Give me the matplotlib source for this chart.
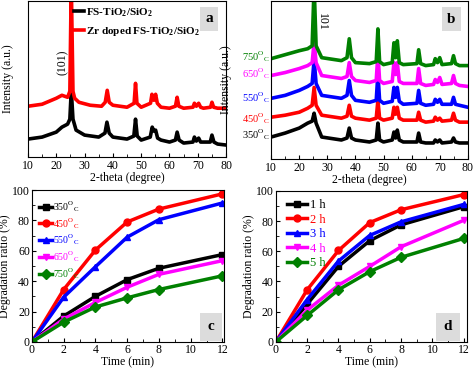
import matplotlib
matplotlib.use("Agg")
import matplotlib.pyplot as plt
from matplotlib.ticker import MultipleLocator

plt.rcParams["font.family"] = "Liberation Serif"
plt.rcParams["mathtext.fontset"] = "custom"
plt.rcParams["mathtext.rm"] = "Liberation Serif"
plt.rcParams["mathtext.bf"] = "Liberation Serif:bold"
plt.rcParams["xtick.direction"] = "in"
plt.rcParams["ytick.direction"] = "in"

# ---- panel a: XRD, (2theta, intensity) ----
a_black_x = [10, 15, 20, 22, 24, 24.8, 25.3, 25.9, 27, 30, 35, 37.2, 37.9, 38.7, 40, 45, 47.4, 48.0, 48.6,
             50, 53.2, 53.9, 54.5, 55.1, 55.8, 57, 60, 62.1, 62.7, 63.4, 65, 68.3, 68.8, 69.5, 70.3, 71,
             74.4, 75.0, 75.7, 77, 80]
a_black_y = [18, 20, 25, 30, 33, 38, 67, 38, 27, 22, 20, 24, 35, 24, 20, 18, 21, 38, 21,
             17, 20, 30, 26, 27, 19, 17, 15, 17, 25, 17, 14, 15, 20, 16, 19, 15,
             15, 22, 15, 13, 12]
a_red_x = [10, 15, 20, 22, 24, 24.8, 25.3, 25.9, 26.5, 28, 32, 36, 37.3, 38.0, 38.7, 40, 45, 47.5, 48.0, 48.5,
           50, 53.3, 53.8, 54.5, 55.1, 55.7, 57, 60, 62.1, 62.7, 63.3, 65, 68.3, 68.8, 69.5, 70.3, 71,
           72, 74.5, 75.0, 75.6, 77, 80]
a_red_y = [51, 53, 59, 62, 60, 66, 175, 66, 59, 55, 52, 51, 55, 67, 55, 52, 50, 54, 74, 54,
           50, 54, 63, 57, 63, 54, 50, 49, 51, 60, 51, 49, 50, 54, 51, 54, 50,
           49, 50, 55, 50, 49, 49]

# ---- panel b: XRD at five calcination temperatures ----
b_labels = ["350", "450", "550", "650", "750"]
b_x = [10, 15, 20, 23, 24.6, 25.3, 26.0, 28, 35, 37.0, 37.8, 38.6, 40, 45, 47.4, 48.0, 48.6, 50,
       53.1, 53.7, 54.3, 54.9, 55.6, 57, 61.9, 62.5, 63.2, 65, 67.8, 68.4, 69.2, 70.0, 70.8, 74.2, 74.9,
       75.6, 77, 80]
b_350 = [22, 26, 31, 36, 38, 46, 36, 22, 19, 21, 31, 21, 19, 17, 19, 36, 19, 17,
         19, 27, 21, 29, 19, 17, 17, 26, 17, 16, 16, 19, 17, 19, 16, 17, 21,
         17, 16, 16]
b_450 = [42, 44, 47, 51, 54, 72, 54, 44, 41, 43, 54, 43, 41, 39, 41, 59, 41, 39,
         41, 52, 45, 52, 41, 39, 39, 47, 39, 37, 38, 42, 39, 41, 38, 39, 46,
         39, 37, 37]
b_550 = [61, 64, 69, 73, 76, 100, 76, 64, 61, 64, 79, 64, 59, 57, 59, 86, 59, 56,
         58, 72, 62, 72, 58, 55, 56, 69, 56, 54, 55, 60, 57, 60, 55, 55, 62,
         55, 54, 52]
b_650 = [84, 87, 91, 94, 97, 118, 97, 84, 81, 83, 97, 83, 79, 77, 79, 106, 79, 76,
         78, 97, 85, 97, 78, 76, 76, 91, 76, 74, 75, 80, 77, 82, 75, 76, 84,
         76, 74, 73]
b_750 = [101, 105, 109, 111, 114, 175, 114, 102, 99, 102, 121, 102, 97, 96, 98, 131, 98, 95,
         97, 117, 102, 119, 97, 95, 96, 110, 96, 94, 95, 101, 97, 102, 95, 96, 104,
         96, 94, 94]
b_label_y = [24, 41, 62, 86, 103]

# ---- panel c/d: degradation ----
time = [0, 2, 4, 6, 8, 12]
c_labels = ["350", "450", "550", "650", "750"]
c_350 = [0, 17, 30, 41, 48.5, 57.5]
c_450 = [0, 34.5, 60.5, 79, 87.5, 97.5]
c_550 = [0, 29.5, 49.5, 69, 80.5, 91.5]
c_650 = [0, 15, 26, 36, 44.5, 53.5]
c_750 = [0, 13, 23, 29, 34.5, 43.5]

d_labels = ["1 h", "2 h", "3 h", "4 h", "5 h"]
d_1h = [0, 25, 50, 67, 77.5, 89.5]
d_2h = [0, 34.5, 60.5, 79, 87.5, 97.5]
d_3h = [0, 28, 53.5, 70.5, 79.5, 91]
d_4h = [0, 21, 37.5, 50, 63, 80.5]
d_5h = [0, 17.5, 34.5, 46.5, 56, 68.5]

colors = ["black", "#ff0000", "#0000ff", "#ff00ff", "#008000"]
markers = ["s", "o", "^", "v", "D"]
fs = 8.5

fig = plt.figure(figsize=(4.74, 3.72), dpi=100)
ax_a = fig.add_axes([0.059, 0.578, 0.418, 0.42])
ax_b = fig.add_axes([0.572, 0.573, 0.415, 0.424])
ax_c = fig.add_axes([0.0675, 0.081, 0.405, 0.408])
ax_d = fig.add_axes([0.582, 0.081, 0.403, 0.406])


def panel_tag(ax, letter, x, y, pad=0.35):
    ax.text(x, y, letter, transform=ax.transAxes, fontsize=11, fontweight="bold",
            ha="center", va="center",
            bbox=dict(facecolor="#dcdcdc", edgecolor="none", boxstyle="square,pad=%s" % pad))


# panel a
ax_a.plot(a_black_x, a_black_y, color="black", lw=2.6, label="FS-TiO$_\\mathbf{2}$/SiO$_\\mathbf{2}$")
ax_a.plot(a_red_x, a_red_y, color="#ff0000", lw=2.6, label="Zr doped FS-TiO$_\\mathbf{2}$/SiO$_\\mathbf{2}$")
ax_a.set_xlim(10, 80)
ax_a.set_ylim(0, 157)
ax_a.set_yticks([])
ax_a.xaxis.set_major_locator(MultipleLocator(10))
ax_a.xaxis.set_minor_locator(MultipleLocator(5))
ax_a.tick_params(labelsize=fs, length=3, pad=2)
ax_a.tick_params(which="minor", length=2)
ax_a.set_xlabel("2-theta (degree)", fontsize=fs, labelpad=0)
ax_a.set_ylabel("Intensity (a.u.)", fontsize=fs, labelpad=10)
ax_a.legend(loc="upper left", bbox_to_anchor=(0.18, 1.03), frameon=False, handlelength=0.9,
            handletextpad=0.2, labelspacing=0.55, prop={"weight": "bold", "size": 8})
ax_a.text(22.4, 95, "(101)", rotation=90, fontsize=fs, ha="center", va="center")
panel_tag(ax_a, "a", 0.915, 0.885)

# panel b
b_series = [b_350, b_450, b_550, b_650, b_750]
for ys, c in zip(b_series, colors):
    ax_b.plot(b_x, ys, color=c, lw=2.6)
ax_b.set_xlim(10, 80)
ax_b.set_ylim(0, 159)
ax_b.set_yticks([])
ax_b.xaxis.set_major_locator(MultipleLocator(10))
ax_b.xaxis.set_minor_locator(MultipleLocator(5))
ax_b.tick_params(labelsize=fs, length=3, pad=2)
ax_b.tick_params(which="minor", length=2)
ax_b.set_xlabel("2-theta (degree)", fontsize=fs, labelpad=0)
ax_b.set_ylabel("Intensity (a.u.)", fontsize=fs, labelpad=28)
for lab, yy, c in zip(b_labels, b_label_y, colors):
    ax_b.text(-0.005, yy, lab + "$^\\mathrm{O}$$_\\mathrm{C}$", color=c, fontsize=7.5,
              ha="right", va="center", transform=ax_b.get_yaxis_transform())
ax_b.text(28.0, 138, "101", rotation=270, fontsize=fs, ha="center", va="center")
panel_tag(ax_b, "b", 0.915, 0.885)

# panel c
c_series = [c_350, c_450, c_550, c_650, c_750]
for ys, c, m, lab in zip(c_series, colors, markers, c_labels):
    ax_c.plot(time, ys, color=c, marker=m, ms=5, lw=2.5,
              label=lab + "$^\\mathrm{O}$$_\\mathrm{C}$")
ax_c.set_xlim(0, 12.1)
ax_c.set_ylim(0, 100)
ax_c.xaxis.set_major_locator(MultipleLocator(2))
ax_c.xaxis.set_minor_locator(MultipleLocator(1))
ax_c.yaxis.set_major_locator(MultipleLocator(20))
ax_c.yaxis.set_minor_locator(MultipleLocator(10))
ax_c.tick_params(labelsize=fs, length=3, pad=1.5)
ax_c.tick_params(which="minor", length=2)
ax_c.set_xlabel("Time (min)", fontsize=fs, labelpad=0)
ax_c.set_ylabel("Degradation ratio (%)", fontsize=fs, labelpad=0.5)
leg = ax_c.legend(loc="upper left", bbox_to_anchor=(-0.01, 1.0), frameon=False, handlelength=1.4,
                  handletextpad=0.05, labelspacing=0.2, fontsize=7)
for t, c in zip(leg.get_texts(), colors):
    t.set_color(c)
panel_tag(ax_c, "c", 0.93, 0.1, pad=0.5)

# panel d
d_series = [d_1h, d_2h, d_3h, d_4h, d_5h]
for ys, c, m, lab in zip(d_series, colors, markers, d_labels):
    ax_d.plot(time, ys, color=c, marker=m, ms=5, lw=2.5, label=lab)
ax_d.set_xlim(0, 12.2)
ax_d.set_ylim(0, 100)
ax_d.xaxis.set_major_locator(MultipleLocator(2))
ax_d.xaxis.set_minor_locator(MultipleLocator(1))
ax_d.yaxis.set_major_locator(MultipleLocator(20))
ax_d.yaxis.set_minor_locator(MultipleLocator(10))
ax_d.tick_params(labelsize=fs, length=3, pad=1.5)
ax_d.tick_params(which="minor", length=2)
ax_d.set_xlabel("Time (min)", fontsize=fs, labelpad=0)
ax_d.set_ylabel("Degradation ratio (%)", fontsize=fs, labelpad=1)
leg = ax_d.legend(loc="upper left", bbox_to_anchor=(0.0, 1.02), frameon=False, handlelength=1.6,
                  handletextpad=0.2, labelspacing=0.2, fontsize=9)
for t, c in zip(leg.get_texts(), colors):
    t.set_color(c)
panel_tag(ax_d, "d", 0.9, 0.1, pad=0.5)

fig.savefig("out.png", dpi=100)
